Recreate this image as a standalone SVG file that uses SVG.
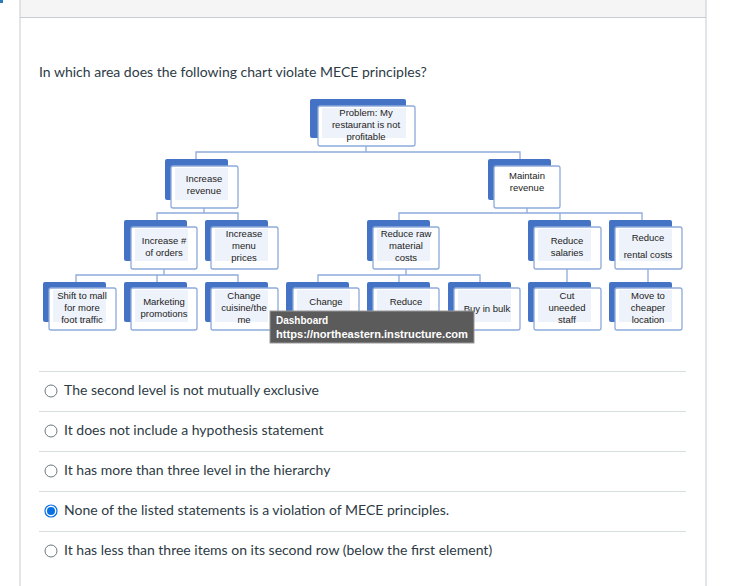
<svg xmlns="http://www.w3.org/2000/svg" width="744" height="586" viewBox="0 0 744 586">
<style>
.bk{fill:#4472c4}
.fr{fill:#fff;stroke:#8eaadb;stroke-width:1.3}
.in{fill:#eef2fa}
.nt{font-family:"Liberation Sans",Arial,sans-serif;font-size:9.5px;fill:#222;text-anchor:middle}
.cn{fill:none;stroke:#8eaadb;stroke-width:1.3}
.q{font-family:Lato,"Liberation Sans",sans-serif;font-size:14px;fill:#2d3b45}
.sep{stroke:#d8dde0;stroke-width:1}
.rad{fill:#fff;stroke:#6b7780;stroke-width:1}
</style>
<rect x="0" y="0" width="744" height="586" fill="#fff"/>
<rect x="20" y="0" width="686" height="17" fill="#f5f5f5"/>
<rect x="0" y="0" width="3" height="3" fill="#2b7abc"/>
<line x1="20" y1="0" x2="20" y2="586" stroke="#c7cdd1"/>
<line x1="706" y1="0" x2="706" y2="586" stroke="#c7cdd1"/>
<line x1="20" y1="17.5" x2="706" y2="17.5" stroke="#c7cdd1"/>
<text class="q" x="39" y="77" font-size="15">In which area does the following chart violate MECE principles?</text>

<g id="connectors" class="cn">
<polyline points="366,146 366,152"/>
<polyline points="196,159 196,152 520,152 520,159"/>
<polyline points="204,208 204,213"/>
<polyline points="157,220 157,213 238,213 238,220"/>
<polyline points="164,269 164,275"/>
<polyline points="76,282 76,275 238,275 238,282"/>
<polyline points="157,275 157,282"/>
<polyline points="527,208 527,213"/>
<polyline points="399,220 399,213 642,213 642,220"/>
<polyline points="560,213 560,220"/>
<polyline points="406,269 406,275"/>
<polyline points="318,282 318,275 480,275 480,282"/>
<polyline points="399,275 399,282"/>
<polyline points="567,269 567,282"/>
<polyline points="648,269 648,282"/>
</g>

<g id="root"><rect class="bk" x="310" y="99" width="96" height="39" rx="2"/><rect class="fr" x="318" y="106" width="97" height="40" rx="2"/><rect class="in" x="322" y="108" width="84" height="30"/>
<text class="nt"><tspan x="366" y="116">Problem: My</tspan><tspan x="366" y="128">restaurant is not</tspan><tspan x="366" y="140">profitable</tspan></text></g>

<g id="inc-rev"><rect class="bk" x="165" y="159" width="63" height="41" rx="2"/><rect class="fr" x="171" y="166" width="67" height="42" rx="2"/><rect class="in" x="175" y="168" width="53" height="32"/>
<text class="nt"><tspan x="204" y="182">Increase</tspan><tspan x="204" y="194">revenue</tspan></text></g>

<g id="maint-rev"><rect class="bk" x="488" y="159" width="63" height="41" rx="2"/><rect class="fr" x="494" y="166" width="66" height="42" rx="2"/>
<text class="nt"><tspan x="527" y="179">Maintain</tspan><tspan x="527" y="191">revenue</tspan></text></g>

<g id="inc-orders"><rect class="bk" x="124" y="220" width="63" height="41" rx="2"/><rect class="fr" x="131" y="227" width="66" height="42" rx="2"/><rect class="in" x="135" y="229" width="53" height="32"/>
<text class="nt"><tspan x="164" y="244">Increase #</tspan><tspan x="164" y="256">of orders</tspan></text></g>

<g id="inc-prices"><rect class="bk" x="205" y="220" width="63" height="41" rx="2"/><rect class="fr" x="211" y="227" width="67" height="42" rx="2"/><rect class="in" x="215" y="229" width="53" height="32"/>
<text class="nt"><tspan x="244" y="237">Increase</tspan><tspan x="244" y="249">menu</tspan><tspan x="244" y="261">prices</tspan></text></g>

<g id="red-raw"><rect class="bk" x="367" y="220" width="63" height="41" rx="2"/><rect class="fr" x="373" y="227" width="66" height="42" rx="2"/><rect class="in" x="377" y="229" width="53" height="32"/>
<text class="nt"><tspan x="406" y="237">Reduce raw</tspan><tspan x="406" y="249">material</tspan><tspan x="406" y="261">costs</tspan></text></g>

<g id="red-sal"><rect class="bk" x="528" y="220" width="63" height="41" rx="2"/><rect class="fr" x="534" y="227" width="67" height="42" rx="2"/><rect class="in" x="538" y="229" width="53" height="32"/>
<text class="nt"><tspan x="567" y="244">Reduce</tspan><tspan x="567" y="256">salaries</tspan></text></g>

<g id="red-rent"><rect class="bk" x="609" y="220" width="63" height="41" rx="2"/><rect class="fr" x="615" y="227" width="67" height="42" rx="2"/><rect class="in" x="619" y="229" width="53" height="32"/>
<text class="nt"><tspan x="648" y="241">Reduce</tspan><tspan x="648" y="258">rental costs</tspan></text></g>

<g id="shift"><rect class="bk" x="43" y="282" width="63" height="40" rx="2"/><rect class="fr" x="49" y="288" width="67" height="42" rx="2"/><rect class="in" x="53" y="290" width="53" height="32"/>
<text class="nt"><tspan x="82" y="299">Shift to mall</tspan><tspan x="82" y="311">for more</tspan><tspan x="82" y="323">foot traffic</tspan></text></g>

<g id="marketing"><rect class="bk" x="124" y="282" width="63" height="40" rx="2"/><rect class="fr" x="131" y="288" width="66" height="42" rx="2"/><rect class="in" x="135" y="290" width="53" height="32"/>
<text class="nt"><tspan x="164" y="305">Marketing</tspan><tspan x="164" y="317">promotions</tspan></text></g>

<g id="cuisine"><rect class="bk" x="205" y="282" width="63" height="40" rx="2"/><rect class="fr" x="211" y="288" width="67" height="42" rx="2"/><rect class="in" x="215" y="290" width="53" height="32"/>
<text class="nt"><tspan x="244" y="299">Change</tspan><tspan x="244" y="311">cuisine/the</tspan><tspan x="244" y="323">me</tspan></text></g>

<g id="change"><rect class="bk" x="286" y="282" width="63" height="40" rx="2"/><rect class="fr" x="293" y="288" width="66" height="42" rx="2"/><rect class="in" x="297" y="290" width="53" height="32"/>
<text class="nt"><tspan x="326" y="305">Change</tspan></text></g>

<g id="reduce"><rect class="bk" x="367" y="282" width="63" height="40" rx="2"/><rect class="fr" x="373" y="288" width="66" height="42" rx="2"/><rect class="in" x="377" y="290" width="53" height="32"/>
<text class="nt"><tspan x="406" y="305">Reduce</tspan></text></g>

<g id="bulk"><rect class="bk" x="448" y="282" width="63" height="40" rx="2"/><rect class="fr" x="454" y="288" width="66" height="42" rx="2"/><rect class="in" x="458" y="290" width="53" height="32"/>
<text class="nt"><tspan x="487" y="312">Buy in bulk</tspan></text></g>

<g id="cut"><rect class="bk" x="528" y="282" width="63" height="40" rx="2"/><rect class="fr" x="534" y="288" width="67" height="42" rx="2"/><rect class="in" x="538" y="290" width="53" height="32"/>
<text class="nt"><tspan x="567" y="299">Cut</tspan><tspan x="567" y="311">uneeded</tspan><tspan x="567" y="323">staff</tspan></text></g>

<g id="move"><rect class="bk" x="609" y="282" width="63" height="40" rx="2"/><rect class="fr" x="615" y="288" width="67" height="42" rx="2"/><rect class="in" x="619" y="290" width="53" height="32"/>
<text class="nt"><tspan x="648" y="299">Move to</tspan><tspan x="648" y="311">cheaper</tspan><tspan x="648" y="323">location</tspan></text></g>

<g id="tooltip"><rect x="270" y="311" width="204" height="32" fill="#5b5b5b" stroke="#9a9a9a"/>
<text font-family="'Liberation Sans',Arial,sans-serif" font-size="10" font-weight="bold" fill="#fff"><tspan x="276" y="324">Dashboard</tspan><tspan x="276" y="338" textLength="192" lengthAdjust="spacingAndGlyphs">https://northeastern.instructure.com</tspan></text></g>

<g id="answers">
<line class="sep" x1="39" y1="371.5" x2="686" y2="371.5"/>
<line class="sep" x1="39" y1="411.5" x2="686" y2="411.5"/>
<line class="sep" x1="39" y1="451.5" x2="686" y2="451.5"/>
<line class="sep" x1="39" y1="491.5" x2="686" y2="491.5"/>
<line class="sep" x1="39" y1="531.5" x2="686" y2="531.5"/>
<circle class="rad" cx="51" cy="391" r="6"/>
<circle class="rad" cx="51" cy="431" r="6"/>
<circle class="rad" cx="51" cy="471" r="6"/>
<circle cx="51" cy="511" r="6" fill="#fff" stroke="#0770e3" stroke-width="1.2"/><circle cx="51" cy="511" r="4" fill="#0770e3"/>
<circle class="rad" cx="51" cy="551" r="6"/>
<text class="q" x="64" y="395">The second level is not mutually exclusive</text>
<text class="q" x="64" y="435">It does not include a hypothesis statement</text>
<text class="q" x="64" y="475">It has more than three level in the hierarchy</text>
<text class="q" x="64" y="515">None of the listed statements is a violation of MECE principles.</text>
<text class="q" x="64" y="555">It has less than three items on its second row (below the first element)</text>
</g>
</svg>
